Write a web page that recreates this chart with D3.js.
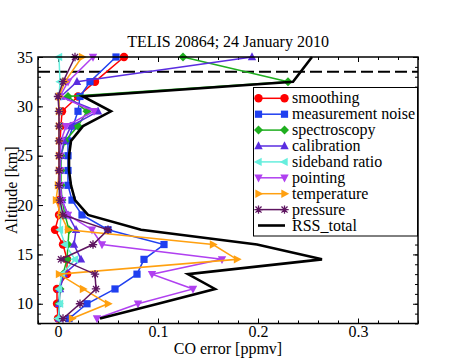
<!DOCTYPE html>
<html><head><meta charset="utf-8">
<script src="https://cdn.jsdelivr.net/npm/d3@7"></script>
<style>html,body{margin:0;padding:0;background:#fff;}svg{display:block;}</style>
</head><body>
<div id="chart"></div>
<script>
const title = "TELIS 20864; 24 January 2010";
const xLabel = "CO error [ppmv]";
const yLabel = "Altitude [km]";
const altitudes = [35, 32.5, 31, 29.5, 28, 26.5, 25, 23.5, 22, 20.5, 19, 17.5, 16, 14.5, 13, 11.5, 10, 8.5];
const seriesNames = ["smoothing","measurement noise","spectroscopy","calibration","sideband ratio","pointing","temperature","pressure","RSS_total"];
const smoothing   = [0.066,0.037,0.020,0.004,0.003,0.002,0.002,0.002,0.002,0.001,0.001,-0.003,0.005,0.009,0.009,-0.001,-0.001,0.000];
const measNoise   = [0.058,0.032,0.022,0.020,0.015,0.010,0.010,0.010,0.010,0.014,0.024,0.050,0.106,0.086,0.079,0.057,0.029,0.011];
const spectroscopy= [0.125,0.230,0.010,0.029,0.020,0.007,0.003,0.003,0.003,0.004,0.007,0.011,0.010,0.009,0.005,0.002,0.001,0.001];
const calibration = [0.194,0.019,0.003,0.040,0.013,0.006,0.003,0.002,0.002,0.004,0.010,0.018,0.016,0.023,0.006,0.002,0.001,0.001];
const sideband    = [0.001,0.002,0.001,0.001,0.001,0.001,0.001,0.001,0.001,0.002,0.003,0.002,0.007,0.017,0.004,0.001,0.002,0.000];
const pointing    = [0.035,0.010,0.002,0.036,0.008,0.003,0.002,0.002,0.002,0.004,0.010,0.034,0.044,0.164,0.094,0.135,0.080,0.039];
const temperature = [0.024,0.007,0.001,0.001,0.001,0.001,0.001,0.001,0.000,-0.002,0.003,0.010,0.155,0.179,0.001,0.025,0.050,0.014];
const pressure    = [0.017,0.005,0.000,0.001,0.001,0.001,0.001,0.001,0.001,0.002,0.005,0.050,0.035,0.003,0.037,0.038,0.022,0.005];
const rssTotal    = [0.254,0.235,0.025,0.053,0.025,0.013,0.011,0.011,0.013,0.017,0.030,0.083,0.199,0.264,0.130,0.157,0.100,0.042];
const xMajorTicks = [0, 0.1, 0.2, 0.3];
const yMajorTicks = [10, 15, 20, 25, 30, 35];
const dashedAltitude = 33.5;

const seriesValues = [smoothing, measNoise, spectroscopy, calibration, sideband, pointing, temperature, pressure, rssTotal];
const colors = ["#ff0000","#1f3ff0","#1fae1f","#5a2de0","#66eedd","#b040f0","#ffa010","#5e1560","#000000"];
const symbols = ["circle","square","diamond","tri-up","tri-left","tri-down","tri-right","star","none"];

const W = 474, H = 358;
const L = 38, R = 418, T = 57, B = 323.5;
const font = "'Liberation Serif','Times New Roman',serif";

const svg = d3.select("#chart").append("svg").attr("width", W).attr("height", H)
  .style("font-family", font);

const x = d3.scaleLinear().domain([-0.02, 0.36]).range([L, R]);
const y = d3.scaleLinear().domain([8, 35]).range([B, T]);

const xMinor = d3.range(-0.02, 0.361, 0.02).map(v => +v.toFixed(2));
const yMinor = d3.range(8, 35.1, 1);
const fmt = v => v === 0 ? "0" : d3.format(".1f")(v);

function styleAxis(g){ g.select(".domain").remove(); g.selectAll("line").attr("stroke","#000").attr("stroke-width",1); g.selectAll("text").attr("font-size",16).attr("font-family",font).attr("fill","#000"); }

// minor ticks
svg.append("g").attr("transform",`translate(0,${B})`).call(d3.axisBottom(x).tickValues(xMinor).tickSize(-3).tickFormat("")).call(styleAxis);
svg.append("g").attr("transform",`translate(0,${T})`).call(d3.axisTop(x).tickValues(xMinor).tickSize(-3).tickFormat("")).call(styleAxis);
svg.append("g").attr("transform",`translate(${L},0)`).call(d3.axisLeft(y).tickValues(yMinor).tickSize(-3).tickFormat("")).call(styleAxis);
svg.append("g").attr("transform",`translate(${R},0)`).call(d3.axisRight(y).tickValues(yMinor).tickSize(-3).tickFormat("")).call(styleAxis);
// major ticks
svg.append("g").attr("transform",`translate(0,${B})`).call(d3.axisBottom(x).tickValues(xMajorTicks).tickSize(-5).tickPadding(2).tickFormat(fmt)).call(styleAxis);
svg.append("g").attr("transform",`translate(0,${T})`).call(d3.axisTop(x).tickValues(xMajorTicks).tickSize(-5).tickFormat("")).call(styleAxis);
svg.append("g").attr("transform",`translate(${L},0)`).call(d3.axisLeft(y).tickValues(yMajorTicks).tickSize(-5).tickPadding(5).tickFormat(d3.format("d"))).call(styleAxis);
svg.append("g").attr("transform",`translate(${R},0)`).call(d3.axisRight(y).tickValues(yMajorTicks).tickSize(-5).tickFormat("")).call(styleAxis);

// dashed line
svg.append("line").attr("x1",L).attr("x2",R).attr("y1",y(dashedAltitude)).attr("y2",y(dashedAltitude))
  .attr("stroke","#000").attr("stroke-width",2).attr("stroke-dasharray","12,5");

function drawSymbol(g, type, cx, cy, color){
  const s = 4.2;
  if(type==="circle") g.append("circle").attr("cx",cx).attr("cy",cy).attr("r",4.2).attr("fill",color);
  else if(type==="square") g.append("rect").attr("x",cx-3.6).attr("y",cy-3.6).attr("width",7.2).attr("height",7.2).attr("fill",color);
  else if(type==="diamond") g.append("path").attr("d",`M${cx},${cy-4.5}L${cx+4.5},${cy}L${cx},${cy+4.5}L${cx-4.5},${cy}Z`).attr("fill",color);
  else if(type==="tri-up") g.append("path").attr("d",`M${cx},${cy-s-0.5}L${cx+s},${cy+s-1}L${cx-s},${cy+s-1}Z`).attr("fill",color);
  else if(type==="tri-down") g.append("path").attr("d",`M${cx},${cy+s+0.5}L${cx+s},${cy-s+1}L${cx-s},${cy-s+1}Z`).attr("fill",color);
  else if(type==="tri-left") g.append("path").attr("d",`M${cx-s-0.5},${cy}L${cx+s-1},${cy-s}L${cx+s-1},${cy+s}Z`).attr("fill",color);
  else if(type==="tri-right") g.append("path").attr("d",`M${cx+s+0.5},${cy}L${cx-s+1},${cy-s}L${cx-s+1},${cy+s}Z`).attr("fill",color);
  else if(type==="star"){
    const r=4.2, d=r*0.72;
    g.append("path").attr("d",`M${cx-r},${cy}L${cx+r},${cy}M${cx},${cy-r}L${cx},${cy+r}M${cx-d},${cy-d}L${cx+d},${cy+d}M${cx-d},${cy+d}L${cx+d},${cy-d}`)
      .attr("stroke",color).attr("stroke-width",1.3).attr("fill","none");
  }
}

const line = d3.line().x(d => x(d.v)).y(d => y(d.a));
const dataG = svg.append("g");
seriesValues.forEach((vals, i) => {
  const pts = vals.map((v, k) => ({v, a: altitudes[k]}));
  const g = dataG.append("g");
  g.append("path").datum(pts).attr("d", line).attr("fill","none")
    .attr("stroke", colors[i]).attr("stroke-width", i === 8 ? 2.6 : 1.5).attr("stroke-linejoin","miter");
  if (symbols[i] !== "none") pts.forEach(p => drawSymbol(g, symbols[i], x(p.v), y(p.a), colors[i]));
});

// frame
svg.append("rect").attr("x",L).attr("y",T).attr("width",R-L).attr("height",B-T)
  .attr("fill","none").attr("stroke","#000").attr("stroke-width",1.5);

// legend
const lg = svg.append("g");
lg.append("rect").attr("x",253.5).attr("y",87.5).attr("width",164).attr("height",148.5)
  .attr("fill","#fff").attr("stroke","#000").attr("stroke-width",1);
seriesNames.forEach((name, i) => {
  const cy = 98.3 + i*15.9;
  const g = lg.append("g");
  g.append("line").attr("x1",258).attr("x2",285).attr("y1",cy).attr("y2",cy)
    .attr("stroke",colors[i]).attr("stroke-width", i===8 ? 2.6 : 1.5);
  if (symbols[i] !== "none") { drawSymbol(g, symbols[i], 258.5, cy, colors[i]); drawSymbol(g, symbols[i], 284.5, cy, colors[i]); }
  g.append("text").attr("x",292).attr("y",cy+5).attr("font-size",16).attr("fill","#000").text(name);
});

// texts
svg.append("text").attr("x",228).attr("y",46.5).attr("text-anchor","middle").attr("font-size",16).text(title);
svg.append("text").attr("x",228).attr("y",353.5).attr("text-anchor","middle").attr("font-size",16).text(xLabel);
svg.append("text").attr("transform",`translate(17,${(T+B)/2}) rotate(-90)`).attr("text-anchor","middle").attr("font-size",16).text(yLabel);
</script>
</body></html>
